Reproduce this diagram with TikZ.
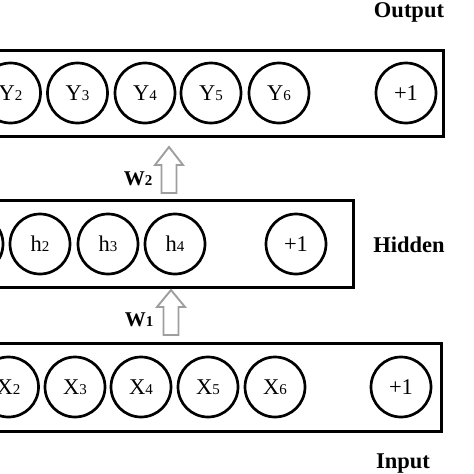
\documentclass[tikz,border=0pt]{standalone}
\usepackage{fontspec}
\setmainfont{Liberation Serif}
\usepackage{tikz}

\newcommand{\idx}[1]{{\fontsize{15}{15}\selectfont #1}}
\newcommand{\widx}[1]{{\fontsize{15}{15}\selectfont #1}}

\begin{document}
\begin{tikzpicture}[x = 1pt, y = -1pt,
    unit/.style = {circle, draw, line width = 2.7pt, minimum size = 60pt, inner sep = 0pt},
    layer/.style = {draw, line width = 3pt},
    wgt/.style = {draw = black!38, line width = 1.9pt, line join = miter},
    lbl/.style = {font = \fontsize{22.5}{24}\selectfont\bfseries, anchor = base},
    wlbl/.style = {font = \fontsize{21}{22}\selectfont\bfseries, anchor = base}]
    \fontsize{22.5}{24}\selectfont
    \clip (0, 0) rectangle (474, 474);

    %% output layer
    \draw[layer] (-150, 50) rectangle (443, 136);
    \node[unit] (y2) at (10.5, 93) {Y\idx{2}};
    \node[unit] (y3) at (77.5, 93) {Y\idx{3}};
    \node[unit] (y4) at (145, 93) {Y\idx{4}};
    \node[unit] (y5) at (211, 93) {Y\idx{5}};
    \node[unit] (y6) at (279, 93) {Y\idx{6}};
    \node[unit] (yb) at (406, 93) {+1};
    \node[lbl] (outlbl) at (409, 17) {Output};

    %% hidden layer
    \draw[layer] (-150, 200) rectangle (353, 287);
    \node[unit] (h1) at (-27, 244) {};
    \node[unit] (h2) at (40, 244) {h\idx{2}};
    \node[unit] (h3) at (108, 244) {h\idx{3}};
    \node[unit] (h4) at (175, 244) {h\idx{4}};
    \node[unit] (hb) at (296, 244) {+1};
    \node[lbl] (hidlbl) at (409, 252) {Hidden};

    %% input layer
    \draw[layer] (-150, 343) rectangle (441, 431);
    \node[unit] (x2) at (8.5, 387) {X\idx{2}};
    \node[unit] (x3) at (75, 387) {X\idx{3}};
    \node[unit] (x4) at (141, 387) {X\idx{4}};
    \node[unit] (x5) at (208, 387) {X\idx{5}};
    \node[unit] (x6) at (275, 387) {X\idx{6}};
    \node[unit] (xb) at (401, 387) {+1};
    \node[lbl] (inlbl) at (403, 468) {Input};

    %% weights
    \draw[wgt] (161.5, 193) -- (176.5, 193) -- (176.5, 165) -- (183, 165)
        -- (169, 147) -- (155, 165) -- (161.5, 165) -- cycle;
    \node[wlbl] (w2) at (138, 185) {W\widx{2}};
    \draw[wgt] (163.5, 335) -- (178.5, 335) -- (178.5, 307) -- (185, 307)
        -- (171, 290) -- (157, 307) -- (163.5, 307) -- cycle;
    \node[wlbl] (w1) at (139, 326) {W\widx{1}};
\end{tikzpicture}
\end{document}
